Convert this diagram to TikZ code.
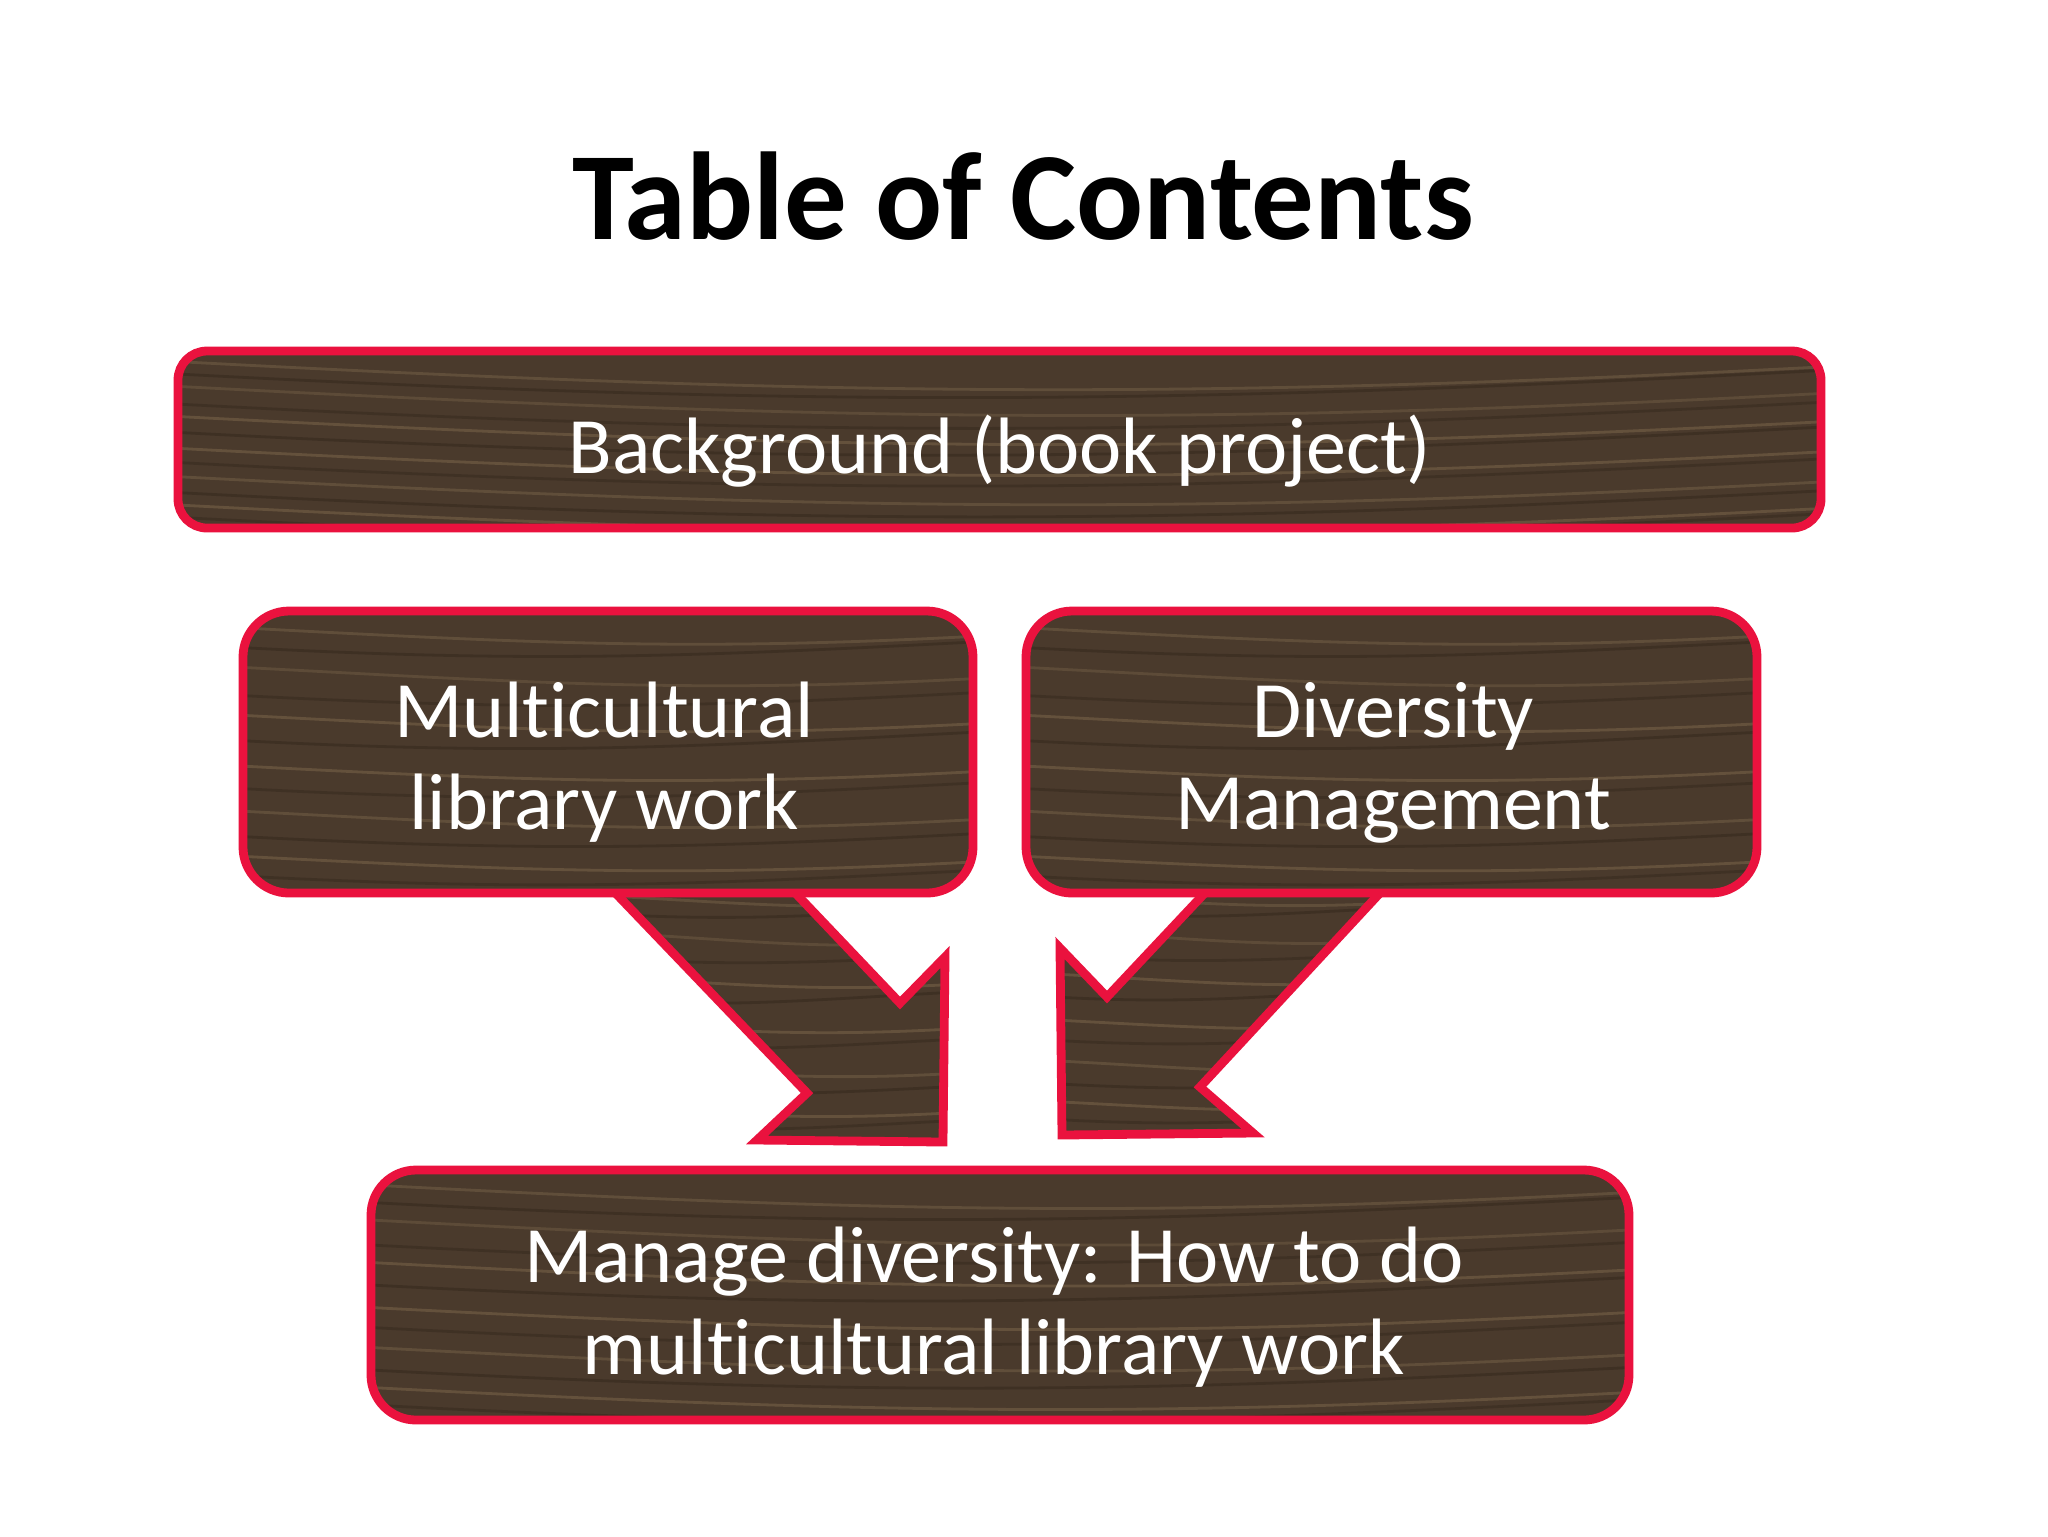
\documentclass[tikz,border=0pt]{standalone}
\usepackage{fontspec}
\setmainfont{Carlito}[Ligatures={NoCommon,NoContextual},Contextuals=NoAlternate]
\usetikzlibrary{calc,backgrounds}
\definecolor{boxred}{RGB}{234,18,62}
\definecolor{woodc}{RGB}{74,58,44}
\definecolor{grainc}{RGB}{150,126,92}
\definecolor{darkgrain}{RGB}{48,36,26}
\newcommand\woodgrain{%
  \foreach \fa/\da/\oa/\ca in {0.06/0.03/0.3/grainc, 0.13/-0.02/0.45/darkgrain, 0.2/0.04/0.25/grainc, 0.3/-0.01/0.4/darkgrain, 0.37/0.03/0.35/grainc, 0.46/-0.03/0.45/darkgrain, 0.55/0.02/0.35/grainc, 0.63/-0.02/0.4/darkgrain, 0.71/0.03/0.3/grainc, 0.8/-0.01/0.45/darkgrain, 0.87/0.02/0.35/grainc, 0.94/-0.02/0.4/darkgrain}{%
    \pgfmathsetmacro\ga{\fa+\da}%
    \draw[\ca, line width=0.7pt, opacity=\oa]
      ($(path picture bounding box.north west)!\fa!(path picture bounding box.south west)$)
      to[out=-3,in=183]
      ($(path picture bounding box.north east)!\ga!(path picture bounding box.south east)$);
  }}
\tikzset{
  woodbox/.style={rectangle, draw=boxred, line width=2.2pt, fill=woodc, inner sep=0pt, outer sep=0pt, path picture={\woodgrain}},
  boxtext/.style={text=white, font=\fontsize{20}{23}\selectfont, align=center, inner sep=0pt},
  woodarrow/.style={draw=boxred, line width=2.2pt, fill=woodc, line join=miter, path picture={\woodgrain}},
  titletext/.style={font=\fontsize{31.25}{37}\selectfont\bfseries, inner sep=0pt, text=black}
}
\begin{document}
\begin{tikzpicture}[x=0.25pt,y=-0.25pt]
\useasboundingbox (0,0) rectangle (2048,1536);
\node[titletext, anchor=base] (title) at (1023,239) {Table of Contents};
\node[woodbox, rounded corners=7.25pt, minimum width=410.75pt, minimum height=44.25pt] (b1) at (999.5,439.5) {};
\node[boxtext, anchor=base] (t1) at (1000,473) {Background (book project)};
\node[woodbox, rounded corners=11.5pt, minimum width=182.5pt, minimum height=70.5pt] (b2) at (608,752) {};
\node[boxtext] (t2) at (604,762) {Multicultural\\library work};
\node[woodbox, rounded corners=11.5pt, minimum width=182.75pt, minimum height=70.5pt] (b3) at (1391.5,752) {};
\node[boxtext] (t3) at (1393,763) {Diversity\\Management};
\node[woodbox, rounded corners=11.25pt, minimum width=314.5pt, minimum height=62.5pt] (b4) at (1000,1295) {};
\node[boxtext] (t4) at (994,1307) {Manage diversity: How to do\\multicultural library work};
\begin{pgfonlayer}{background}
\fill[white] (0,0) rectangle (2048,1536);
\draw[woodarrow] (603,880) -- (783,880) -- (900,1003) -- (945,957) -- (943,1142) -- (757,1140) -- (807,1093) -- cycle;
\draw[woodarrow] (1217,880) -- (1392,880) -- (1200,1087) -- (1253,1133) -- (1062,1135) -- (1060,948) -- (1107,997) -- cycle;
\end{pgfonlayer}
\end{tikzpicture}
\end{document}
